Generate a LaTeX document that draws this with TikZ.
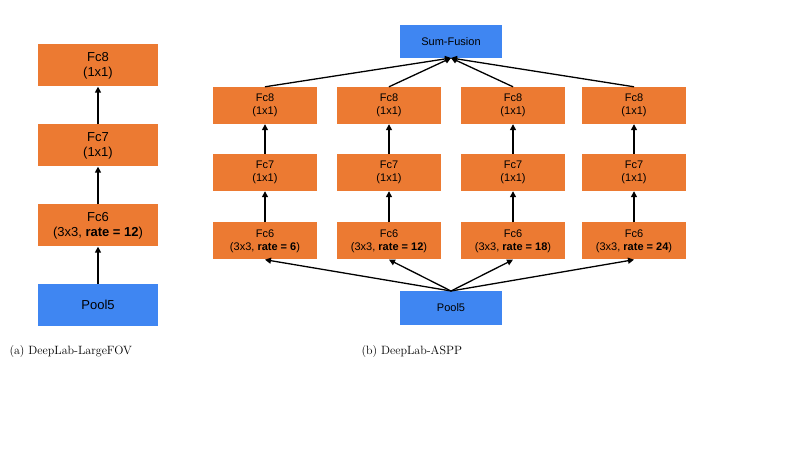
\documentclass[tikz,border=0pt]{standalone}
\usepackage{fontspec}
\newfontfamily\boxfont{Liberation Sans}
\usetikzlibrary{arrows.meta}
\definecolor{og}{HTML}{EC7A32}
\definecolor{bl}{HTML}{3F86F2}
\begin{document}
\begin{tikzpicture}[x=1pt,y=-1pt,
 ob/.style={fill=og,draw=none,inner sep=0pt,align=center,font=\boxfont},
 bb/.style={fill=bl,draw=none,inner sep=0pt,align=center,font=\boxfont},
 big/.style={minimum width=120pt,minimum height=42pt,font=\boxfont\fontsize{13}{15}\selectfont},
 sm/.style={minimum width=104pt,minimum height=37pt,font=\boxfont\fontsize{11}{13}\selectfont},
 ar/.style={-{Triangle[length=6pt,width=6pt]},line width=1.6pt},
 ar2/.style={-{Triangle[length=6pt,width=6pt]},line width=1.3pt},
 captxt/.style={font=\fontsize{12}{14}\selectfont,anchor=west}]
\useasboundingbox (0,0) rectangle (788,454);
% left
\node[ob,big] (l8) at (98,65.5) {Fc8\\(1x1)};
\node[ob,big] (l7) at (98,145.5) {Fc7\\(1x1)};
\node[ob,big] (l6) at (98,225.5) {Fc6\\(3x3, \textbf{rate = 12})};
\node[bb,big] (lp) at (98,305) {Pool5};
\draw[ar] (lp) -- (l6);
\draw[ar] (l6) -- (l7);
\draw[ar] (l7) -- (l8);
\node[captxt] (ca) at (6,352) {(a) DeepLab-LargeFOV};
% right
\node[bb,minimum width=102pt,minimum height=33pt,font=\boxfont\fontsize{11}{13}\selectfont] (sf) at (451,41.5) {Sum-Fusion};
\node[bb,minimum width=102pt,minimum height=34pt,font=\boxfont\fontsize{11}{13}\selectfont] (rp) at (451,308) {Pool5};
\coordinate (sfb) at (451,58);
\coordinate (rpt) at (451,291);
\foreach \i/\x/\r in {1/265/6,2/389/12,3/513/18,4/634/24}{
 \node[ob,sm] (a\i) at (\x,105.5) {Fc8\\(1x1)};
 \node[ob,sm] (b\i) at (\x,172.5) {Fc7\\(1x1)};
 \node[ob,sm] (c\i) at (\x,241) {Fc6\\(3x3, \textbf{rate = \r})};
 \draw[ar2] (c\i) -- (b\i);
 \draw[ar2] (b\i) -- (a\i);
 \draw[ar2] (a\i.north) -- (sfb);
 \draw[ar2] (rpt) -- (c\i.south);
}
\node[captxt] (cb) at (358,352) {(b) DeepLab-ASPP};
\end{tikzpicture}
\end{document}
